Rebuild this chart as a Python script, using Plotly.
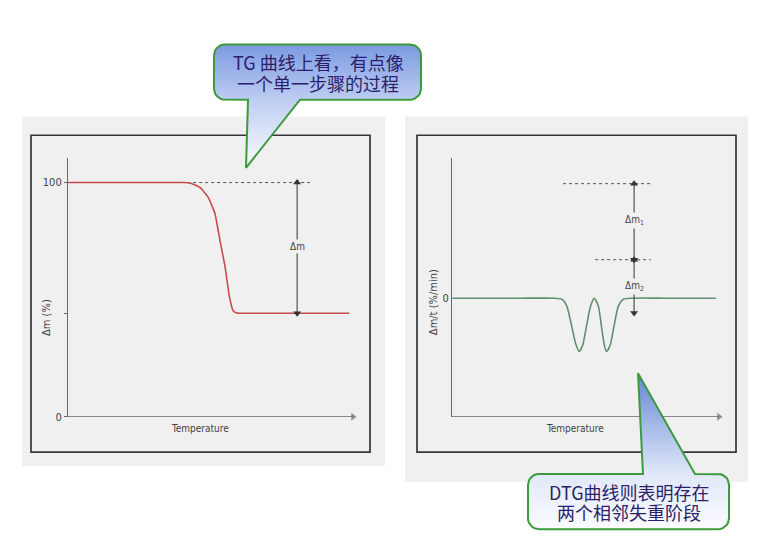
import numpy as np
import plotly.graph_objects as go

W, H = 778, 554

# TG curve (left panel): temperature in arbitrary units, mass in %
tg_temp = [0, 30.0, 40.5, 42.8, 46.3, 49.2, 51.6, 53.3, 55.1, 56.6, 58.0, 59.2, 62.0, 75.0, 98.7]
tg_mass = [100, 100, 100, 99.8, 97.9, 93.7, 86.6, 75.4, 64.1, 51.5, 45.1, 44.3, 44.2, 44.2, 44.2]
tg_tickvals = [0, 44.2, 100]
tg_ticktext = ["0", "", "100"]
tg_ref_span = [41.8, 84.9]   # dotted reference line at 100 %
tg_arrow_x = 80.4

# DTG curve (right panel): rate in arbitrary units
dtg_temp = [0.1, 25.0, 38.0, 41.1, 43.0, 44.8, 46.3, 47.6, 48.9, 50.4, 51.9, 53.3,
            54.8, 56.1, 57.1, 57.9, 59.2, 60.7, 62.3, 64.2, 67.0, 80.0, 98.9]
dtg_rate = [0, 0, 0, -0.1, -0.8, -2.8, -4.6, -5.4, -4.8, -2.8, -0.8, 0.0,
            -0.8, -3.1, -4.8, -5.4, -4.8, -2.8, -0.8, -0.1, 0, 0, 0]
dtg_levels = [11.6, 3.9, -1.5]
dtg_ref_spans = [[41.6, 74.9], [53.6, 74.5]]
dtg_arrow_x = 68.2

callout_top_lines = ["TG 曲线上看，有点像", "一个单一步骤的过程"]
callout_bottom_lines = ["DTG曲线则表明存在", "两个相邻失重阶段"]

BG = "#f0f0f0"
FRAME = "#363636"
AXIS = "#666666"
NARROW = "Liberation Sans Narrow, DejaVu Sans Condensed, Arial, sans-serif"
CJK = "Noto Sans CJK SC, sans-serif"


def callout_path(x0, y0, x1, y1, r, side, tb0, tb1, apex):
    """Outline of a rounded box with a pointer tail (screen pixels, y down)."""
    xs, ys = [], []

    def arc(cx, cy, a0, a1):
        t = np.radians(np.linspace(a0, a1, 8))
        xs.extend(cx + r * np.cos(t))
        ys.extend(cy + r * np.sin(t))

    arc(x0 + r, y0 + r, 180, 270)
    if side == "top":
        xs.extend([tb0, apex[0], tb1])
        ys.extend([y0, apex[1], y0])
    arc(x1 - r, y0 + r, 270, 360)
    arc(x1 - r, y1 - r, 0, 90)
    if side == "bottom":
        xs.extend([tb1, apex[0], tb0])
        ys.extend([y1, apex[1], y1])
    arc(x0 + r, y1 - r, 90, 180)
    xs.append(xs[0])
    ys.append(ys[0])
    return xs, ys


def arrow_trace(x, y, symbols, xa, ya, color="#333", width=1, size=7):
    return go.Scatter(x=x, y=y, mode="lines+markers", xaxis=xa, yaxis=ya, cliponaxis=False,
                      line=dict(color=color, width=width),
                      marker=dict(symbol=symbols, size=size, color=color, line=dict(width=0)),
                      hoverinfo="skip")


fig = go.Figure()

# left: TG
fig.add_trace(go.Scatter(x=tg_ref_span, y=[100, 100], mode="lines", xaxis="x", yaxis="y",
                         line=dict(color="#555", width=1, dash="dot"), hoverinfo="skip"))
fig.add_trace(go.Scatter(x=tg_temp, y=tg_mass, mode="lines", xaxis="x", yaxis="y",
                         line=dict(color="#c84a4c", width=1.6, shape="spline", smoothing=0.4),
                         hoverinfo="skip"))
fig.add_trace(arrow_trace([0, 100], [0, 0], ["circle-open", "triangle-right"], "x", "y",
                          color=AXIS, width=1.2, size=[0, 7]))
fig.add_trace(arrow_trace([tg_arrow_x, tg_arrow_x], [100, tg_mass[-1]],
                          ["triangle-up", "triangle-down"], "x", "y"))

# right: DTG
for span, lvl in zip(dtg_ref_spans, dtg_levels[:2]):
    fig.add_trace(go.Scatter(x=span, y=[lvl, lvl], mode="lines", xaxis="x2", yaxis="y2",
                             line=dict(color="#555", width=1, dash="dot"), hoverinfo="skip"))
fig.add_trace(go.Scatter(x=dtg_temp, y=dtg_rate, mode="lines", xaxis="x2", yaxis="y2",
                         line=dict(color="#5f8f70", width=1.6, shape="spline", smoothing=0.6),
                         hoverinfo="skip"))
fig.add_trace(arrow_trace([0, 100], [-12, -12], ["circle-open", "triangle-right"], "x2", "y2",
                          color=AXIS, width=1.2, size=[0, 7]))
fig.add_trace(arrow_trace([dtg_arrow_x, dtg_arrow_x], [dtg_levels[0], dtg_levels[1]],
                          ["triangle-up", "triangle-down"], "x2", "y2"))
fig.add_trace(arrow_trace([dtg_arrow_x, dtg_arrow_x], [dtg_levels[1], dtg_levels[2]],
                          ["triangle-up", "triangle-down"], "x2", "y2"))

# callouts on a full-page pixel overlay
top_x, top_y = callout_path(214, 45, 421, 101, 11, "bottom", 248, 300, (246, 170))
fig.add_trace(go.Scatter(x=top_x, y=top_y, mode="lines", fill="toself", xaxis="x3", yaxis="y3",
                         line=dict(color="#3c9a3c", width=2),
                         fillgradient=dict(type="vertical", start=45, stop=172,
                                           colorscale=[[0, "#7b9be0"], [0.45, "#c0cff3"], [1, "#ffffff"]]),
                         hoverinfo="skip"))
bot_x, bot_y = callout_path(528, 480, 729, 536, 11, "top", 643, 695, (638, 378))
fig.add_trace(go.Scatter(x=bot_x, y=bot_y, mode="lines", fill="toself", xaxis="x3", yaxis="y3",
                         line=dict(color="#3c9a3c", width=2),
                         fillgradient=dict(type="vertical", start=378, stop=538,
                                           colorscale=[[0, "#6a8bd7"], [0.6, "#e0e8f9"], [1, "#ffffff"]]),
                         hoverinfo="skip"))


def px(x):
    return x / W


def py(y):
    return 1 - y / H


shapes = []
for (x0, y0, x1, y1) in [(22, 118, 385, 472), (405, 118, 748, 488)]:
    shapes.append(dict(type="rect", xref="paper", yref="paper", layer="below",
                       x0=px(x0), x1=px(x1), y0=py(y1), y1=py(y0),
                       fillcolor=BG, line=dict(width=0)))
for (x0, y0, x1, y1) in [(31, 137, 370, 458), (417, 137, 736, 458)]:
    shapes.append(dict(type="rect", xref="paper", yref="paper", layer="below",
                       x0=px(x0), x1=px(x1), y0=py(y1), y1=py(y0),
                       fillcolor="rgba(0,0,0,0)", line=dict(color=FRAME, width=1.7)))

small = dict(family=NARROW, size=10, color="#444")
annotations = [
    dict(text="Δm", x=tg_arrow_x, y=72.6, xref="x", yref="y", showarrow=False,
         bgcolor=BG, font=small),
    dict(text="Δm<sub>1</sub>", x=dtg_arrow_x, y=7.9, xref="x2", yref="y2", showarrow=False,
         bgcolor=BG, font=small),
    dict(text="Δm<sub>2</sub>", x=dtg_arrow_x, y=1.2, xref="x2", yref="y2", showarrow=False,
         bgcolor=BG, font=small),
    # axis titles
    dict(text="Δm (%)", x=47, y=322, xref="x3", yref="y3", showarrow=False, textangle=-90,
         font=dict(family=NARROW, size=11, color="#444")),
    dict(text="Δm/t (%/min)", x=433, y=306, xref="x3", yref="y3", showarrow=False, textangle=-90,
         font=dict(family=NARROW, size=11, color="#444")),
    dict(text="Temperature", x=200, y=434, xref="x3", yref="y3", showarrow=False, font=small),
    dict(text="Temperature", x=575, y=434, xref="x3", yref="y3", showarrow=False, font=small),
]
cjk = dict(family=CJK, size=18, color="#2d1e6b")
for line, yy in zip(callout_top_lines, [63, 84]):
    annotations.append(dict(text=line, x=318, y=yy, xref="x3", yref="y3", showarrow=False, font=cjk))
for line, yy in zip(callout_bottom_lines, [498, 519]):
    annotations.append(dict(text=line, x=629, y=yy, xref="x3", yref="y3", showarrow=False, font=cjk))

hidden = dict(visible=False, showgrid=False, zeroline=False)
fig.update_layout(
    width=W, height=H, margin=dict(l=0, r=0, t=0, b=0),
    paper_bgcolor="white", plot_bgcolor="rgba(0,0,0,0)", showlegend=False,
    xaxis=dict(hidden, domain=[px(68), px(353)], range=[0, 100], anchor="y"),
    yaxis=dict(domain=[py(422), py(160)], range=[0, 110.5], anchor="x",
               showgrid=False, zeroline=False, showline=True, linecolor=AXIS, linewidth=1.2,
               tickvals=tg_tickvals, ticktext=tg_ticktext, ticks="outside", ticklen=3,
               tickcolor=AXIS, tickfont=dict(family=NARROW, size=11, color="#444")),
    xaxis2=dict(hidden, domain=[px(452), px(719)], range=[0, 100], anchor="y2"),
    yaxis2=dict(domain=[py(422), py(160)], range=[-12, 14.2], anchor="x2",
                showgrid=False, zeroline=False, showline=True, linecolor=AXIS, linewidth=1.2,
                tickvals=[0], ticktext=["0"], ticks="", tickfont=dict(family=NARROW, size=11, color="#444")),
    xaxis3=dict(hidden, domain=[0, 1], range=[0, W], anchor="y3"),
    yaxis3=dict(hidden, domain=[0, 1], range=[H, 0], anchor="x3"),
    shapes=shapes,
    annotations=annotations,
)

fig.write_html("out.html", config={"displayModeBar": False},
               post_script="document.body.style.margin='0';")
